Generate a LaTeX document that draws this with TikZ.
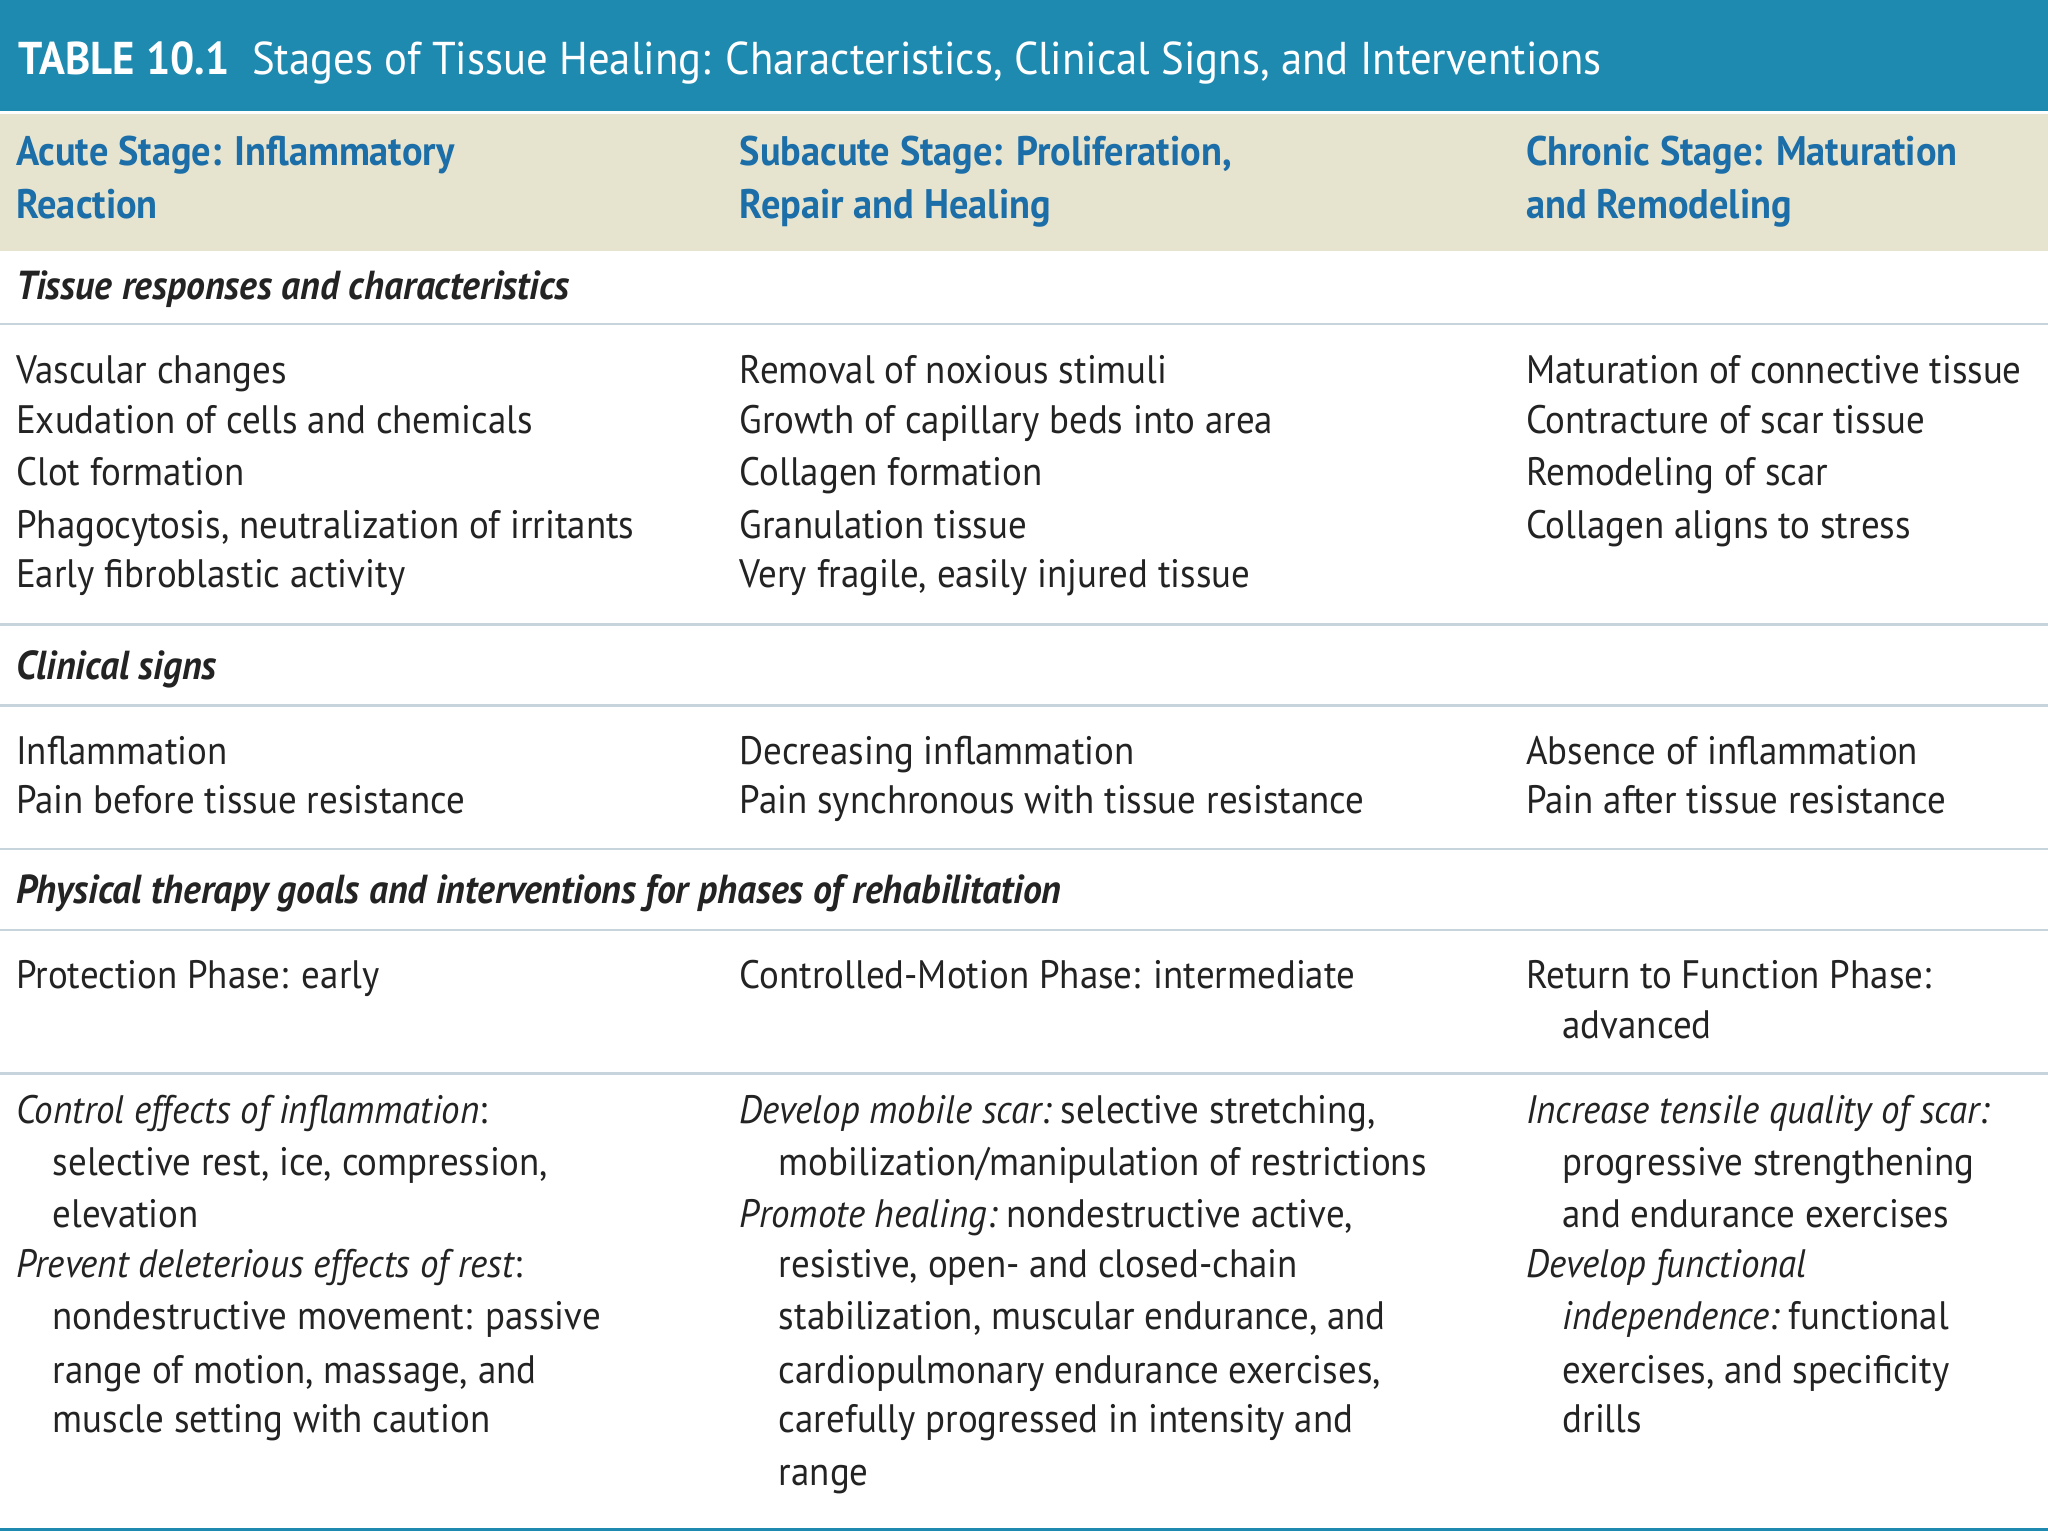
\documentclass[tikz,border=0pt]{standalone}
\usepackage{fontspec}
\setmainfont[FakeStretch=0.93]{PT Sans}
\definecolor{titlebar}{RGB}{30,138,176}
\definecolor{hdrbg}{RGB}{230,227,206}
\definecolor{hdrtxt}{RGB}{28,110,168}
\definecolor{rule}{RGB}{200,212,220}
\definecolor{bodytxt}{RGB}{35,35,35}
\newcounter{tc}
\newcommand\TXt[3]{\stepcounter{tc}\node[txt] (t\thetc) at (#1,#2) {#3};}
\newcommand\HDr[3]{\stepcounter{tc}\node[hdr] (t\thetc) at (#1,#2) {#3};}
\newcommand\SEc[3]{\stepcounter{tc}\node[sec] (t\thetc) at (#1,#2) {#3};}
\begin{document}
\begin{tikzpicture}[x=0.5pt,y=-0.5pt,
 txt/.style={anchor=base west,inner sep=0,font=\fontsize{15.2}{17}\selectfont,text=bodytxt},
 hdr/.style={anchor=base west,inner sep=0,font=\fontsize{15.8}{17}\selectfont\bfseries,text=hdrtxt},
 sec/.style={anchor=base west,inner sep=0,font=\fontsize{15.5}{17}\selectfont\bfseries\itshape,text=bodytxt},
 hl/.style={draw=rule,line width=1pt}]
\useasboundingbox (0,0) rectangle (1568,1176);
\fill[white] (0,0) rectangle (1568,1176);
\fill[titlebar] (0,0) rectangle (1568,85);
\fill[hdrbg] (0,87) rectangle (1568,192);
\node[anchor=base west,inner sep=0,text=white,font=\fontsize{17.6}{19}\selectfont] (title) at (14,57) {{\bfseries TABLE 10.1}\ \ Stages of Tissue Healing: Characteristics, Clinical Signs, and Interventions};
\HDr{12}{127}{Acute Stage: Inflammatory}
\HDr{12}{167}{Reaction}
\HDr{566}{127}{Subacute Stage: Proliferation,}
\HDr{566}{167}{Repair and Healing}
\HDr{1168}{127}{Chronic Stage: Maturation}
\HDr{1168}{167}{and Remodeling}
\SEc{12}{229}{Tissue responses and characteristics}
\foreach \y in {248,478,540,650,712,822} \draw[hl] (0,\y) -- (1568,\y);
\draw[titlebar,line width=1.5pt] (0,1171) -- (1568,1171);
\TXt{12}{294}{Vascular changes}
\TXt{12}{332}{Exudation of cells and chemicals}
\TXt{12}{372}{Clot formation}
\TXt{12}{412}{Phagocytosis, neutralization of irritants}
\TXt{12}{450}{Early fibroblastic activity}
\TXt{566}{294}{Removal of noxious stimuli}
\TXt{566}{332}{Growth of capillary beds into area}
\TXt{566}{372}{Collagen formation}
\TXt{566}{412}{Granulation tissue}
\TXt{566}{450}{Very fragile, easily injured tissue}
\TXt{1168}{294}{Maturation of connective tissue}
\TXt{1168}{332}{Contracture of scar tissue}
\TXt{1168}{372}{Remodeling of scar}
\TXt{1168}{412}{Collagen aligns to stress}
\SEc{12}{520}{Clinical signs}
\TXt{12}{585}{Inflammation}
\TXt{12}{623}{Pain before tissue resistance}
\TXt{566}{585}{Decreasing inflammation}
\TXt{566}{623}{Pain synchronous with tissue resistance}
\TXt{1168}{585}{Absence of inflammation}
\TXt{1168}{623}{Pain after tissue resistance}
\SEc{12}{692}{Physical therapy goals and interventions for phases of rehabilitation}
\TXt{12}{757}{Protection Phase: early}
\TXt{566}{757}{Controlled-Motion Phase: intermediate}
\TXt{1168}{757}{Return to Function Phase:}
\TXt{1196}{795}{advanced}
\TXt{12}{860}{\itshape Control effects of inflammation\upshape:}
\TXt{40}{900}{selective rest, ice, compression,}
\TXt{40}{940}{elevation}
\TXt{12}{978}{\itshape Prevent deleterious effects of rest\upshape:}
\TXt{40}{1018}{nondestructive movement: passive}
\TXt{40}{1059}{range of motion, massage, and}
\TXt{40}{1097}{muscle setting with caution}
\TXt{566}{860}{\itshape Develop mobile scar:\upshape\ selective stretching,}
\TXt{596}{900}{mobilization/manipulation of restrictions}
\TXt{566}{940}{\itshape Promote healing:\upshape\ nondestructive active,}
\TXt{596}{978}{resistive, open- and closed-chain}
\TXt{596}{1018}{stabilization, muscular endurance, and}
\TXt{596}{1059}{cardiopulmonary endurance exercises,}
\TXt{596}{1097}{carefully progressed in intensity and}
\TXt{596}{1137}{range}
\TXt{1168}{860}{\itshape Increase tensile quality of scar:}
\TXt{1196}{900}{progressive strengthening}
\TXt{1196}{940}{and endurance exercises}
\TXt{1168}{978}{\itshape Develop functional}
\TXt{1196}{1018}{\itshape independence:\upshape\ functional}
\TXt{1196}{1059}{exercises, and specificity}
\TXt{1196}{1097}{drills}
\end{tikzpicture}
\end{document}
